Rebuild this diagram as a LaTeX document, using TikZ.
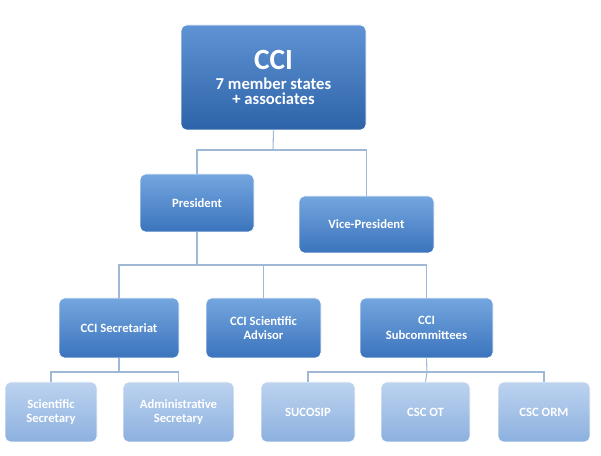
\documentclass[tikz,border=0pt]{standalone}
\usepackage{fontspec}
\setmainfont{Carlito}
\begin{document}
\begin{tikzpicture}[x=0.75pt,y=-0.75pt,
  box/.style={rounded corners=4pt,draw=white,line width=0.6pt,text=white,font=\bfseries\fontsize{9.5}{11}\selectfont,align=center,inner sep=0pt},
  lvA/.style={box,top color=cA1,bottom color=cA2},
  lvB/.style={box,top color=cB1,bottom color=cB2},
  lvC/.style={box,top color=cC1,bottom color=cC2},
  conn/.style={draw=lineC,line width=0.8pt}]
\definecolor{cA1}{HTML}{5F93D4}\definecolor{cA2}{HTML}{2D63A8}
\definecolor{cB1}{HTML}{74A6DF}\definecolor{cB2}{HTML}{3B74BD}
\definecolor{cC1}{HTML}{BDD3EF}\definecolor{cC2}{HTML}{8CB0DF}
\definecolor{lineC}{HTML}{9FB8D6}
\useasboundingbox (0,0) rectangle (601,456);
\newcommand{\bx}[7]{\node[#1,minimum width=#4*0.75pt,minimum height=#5*0.75pt] (#6) at (#2,#3) {#7};}
% connectors first
\coordinate (j1) at (273,150);
\coordinate (j2) at (197,265);
\coordinate (j3) at (119,372);
\coordinate (j4) at (427,372);
\bx{lvA}{273.5}{77.5}{185}{105}{cci}{\fontsize{22}{26}\selectfont CCI\\[4pt]\fontsize{12.5}{15}\selectfont 7 member states\\\fontsize{12.5}{15}\selectfont + associates}
\bx{lvB}{197}{203}{114}{58}{pres}{President}
\bx{lvB}{366.5}{224.5}{135}{57}{vice}{Vice-President}
\bx{lvB}{119}{328}{120}{60}{sec}{CCI Secretariat}
\bx{lvB}{263.5}{328}{115}{60}{adv}{CCI Scientific\\Advisor}
\bx{lvB}{426.5}{328}{133}{60}{sub}{CCI\\Subcommittees}
\bx{lvC}{51}{412}{92}{60}{ss}{Scientific\\Secretary}
\bx{lvC}{178.5}{412}{111}{60}{as}{Administrative\\Secretary}
\bx{lvC}{308}{412}{94}{60}{suc}{SUCOSIP}
\bx{lvC}{425.5}{412}{89}{60}{ot}{CSC OT}
\bx{lvC}{544}{412}{92}{60}{orm}{CSC ORM}
\begin{scope}[on background layer/.style={}]
\draw[conn] (cci.south) -- (j1);
\draw[conn] (pres.north) |- (j1) -| (vice.north);
\draw[conn] (pres.south) -- (j2);
\draw[conn] (sec.north) |- (j2) -| (sub.north);
\draw[conn] (j2) -| (adv.north);
\draw[conn] (sec.south) -- (j3);
\draw[conn] (ss.north) |- (j3) -| (as.north);
\draw[conn] (sub.south) -- (j4);
\draw[conn] (suc.north) |- (j4) -| (orm.north);
\draw[conn] (j4) -- (ot.north);
\end{scope}
\end{tikzpicture}
\end{document}
